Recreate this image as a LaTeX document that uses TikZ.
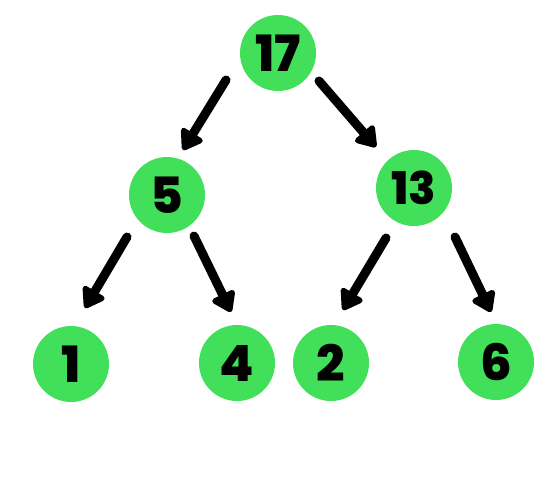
\documentclass[tikz,border=0pt]{standalone}
\usepackage{fontspec}
\setmainfont{Poppins}
\newfontfamily\heavyfont{Poppins ExtraBold}
\usetikzlibrary{arrows.meta}
\definecolor{nodegreen}{HTML}{42E05A}
\begin{document}
\begin{tikzpicture}[x=1pt,y=-1pt,
  vert/.style={circle,fill=nodegreen,minimum size=76pt,inner sep=0pt,
    font=\heavyfont\fontsize{50}{50}\selectfont},
  conn/.style={line width=9pt,line cap=round,
    -{Triangle[length=22pt,width=28pt,round]}}]
\useasboundingbox (0,0) rectangle (545,488);
\node[vert] (n17) at (278,53) {17};
\node[vert] (n5) at (167,195) {5};
\node[vert,font=\heavyfont\fontsize{45}{45}\selectfont] (n13) at (414,188) {13};
\node[vert] (n1) at (71,364) {1};
\node[vert] (n4) at (237,363) {4};
\node[vert] (n2) at (331,363) {2};
\node[vert] (n6) at (496,362) {6};
\coordinate (a1s) at (226,80); \coordinate (a1e) at (183,150);
\coordinate (a2s) at (319,81); \coordinate (a2e) at (376,147);
\coordinate (a3s) at (127,237); \coordinate (a3e) at (85,308);
\coordinate (a4s) at (194,236); \coordinate (a4e) at (231,312);
\coordinate (a5s) at (386,238); \coordinate (a5e) at (343,310);
\coordinate (a6s) at (455,237); \coordinate (a6e) at (491,312);
\draw[conn] (a1s) -- (a1e);
\draw[conn] (a2s) -- (a2e);
\draw[conn] (a3s) -- (a3e);
\draw[conn] (a4s) -- (a4e);
\draw[conn] (a5s) -- (a5e);
\draw[conn] (a6s) -- (a6e);
\end{tikzpicture}
\end{document}
